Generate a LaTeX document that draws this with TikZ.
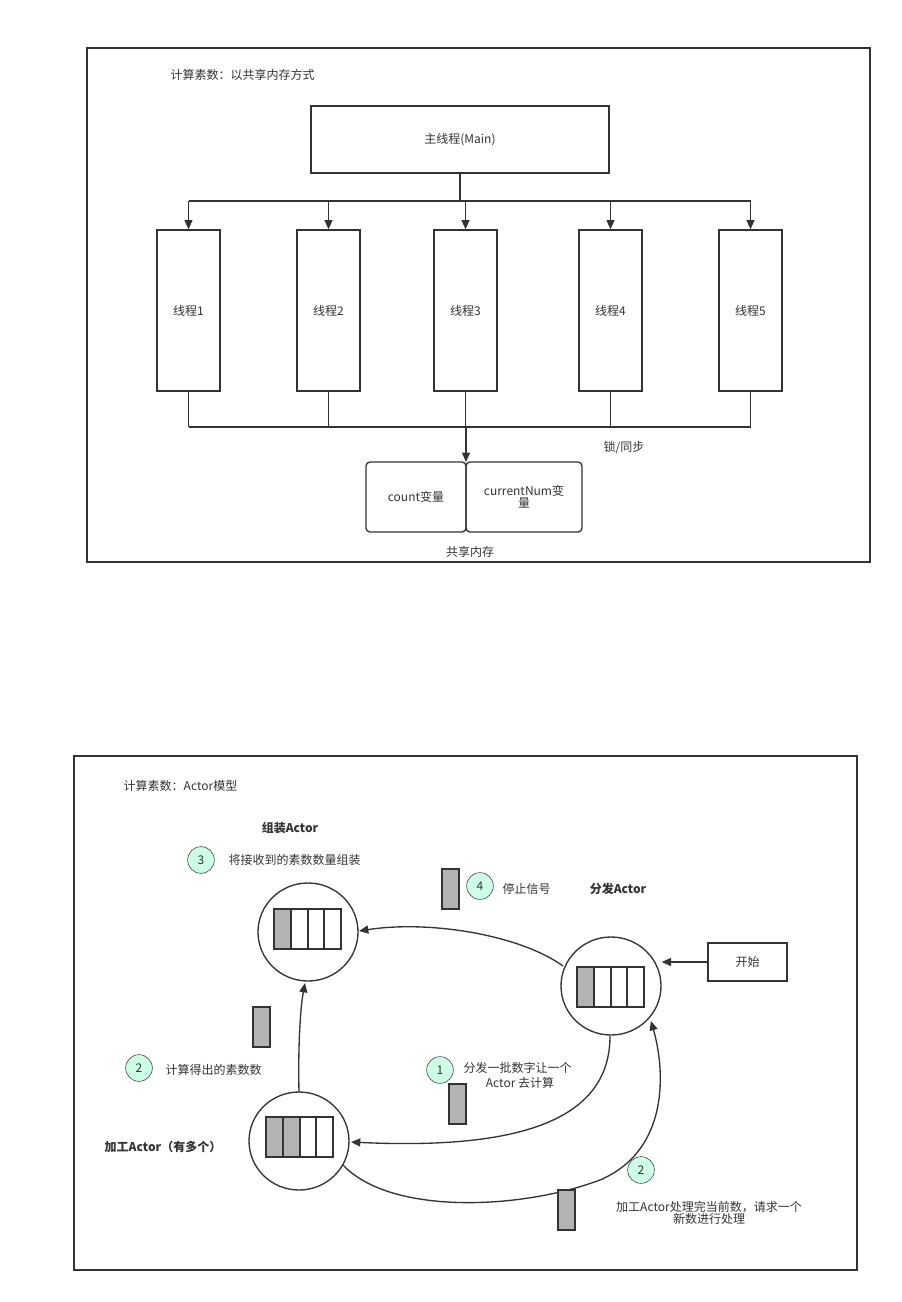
\documentclass[tikz,border=0pt]{standalone}
\usepackage{fontspec}
\setmainfont{Noto Sans CJK SC}
\usetikzlibrary{arrows.meta,shapes.geometric}
\definecolor{ln}{HTML}{333333}
\definecolor{gr}{HTML}{B3B3B3}
\definecolor{mint}{HTML}{CCFFE6}
\begin{document}
\begin{tikzpicture}[x=0.75pt,y=-0.75pt,
  every node/.style={font=\fontsize{9}{11}\selectfont,text=ln},
  box/.style={draw=ln,line width=1pt,inner sep=0},
  arr/.style={draw=ln,line width=1pt,-{Triangle[length=7pt,width=6pt]}},
  ln/.style={draw=ln,line width=1pt},
  num/.style={circle,draw=ln,fill=mint,minimum size=20pt,inner sep=0},
  gbar/.style={draw=ln,fill=gr,line width=1pt},
  act/.style={ellipse,draw=ln,line width=1pt}]
\useasboundingbox (0,0) rectangle (902,1302);
% top
\draw[ln] (87,48) rectangle (870,562);
\node[anchor=west] (t1) at (166,75) {计算素数：以共享内存方式};
\node[box,minimum width=298*0.75pt,minimum height=67*0.75pt] (m) at (460,139.5) {主线程(Main)};
\coordinate (j) at (460,201);
\draw[ln] (m.south) -- (j);
\draw[ln] (188.5,201) -- (750.5,201);
\foreach \i/\x in {1/188.5,2/328.5,3/465.5,4/610.5,5/750.5}{
  \node[box,minimum width=63*0.75pt,minimum height=161*0.75pt] (t\i) at (\x,310.5) {线程\i};
  \draw[arr] (\x,201) -- (t\i.north);
  \draw[ln] (t\i.south) -- (\x,427);
}
\draw[ln] (188.5,427) -- (750.5,427);
\node[box,rounded corners=3pt,minimum width=100*0.75pt,minimum height=70*0.75pt] (c1) at (416,497) {count变量};
\node[box,rounded corners=3pt,minimum width=116*0.75pt,minimum height=70*0.75pt,align=center] (c2) at (524,497) {currentNum变\\[-2pt]量};
\draw[arr] (466,427) -- (466,462);
\node (lk) at (624,447) {锁/同步};
\node (sm) at (470,552) {共享内存};
% bottom
\draw[ln] (74,756) rectangle (857,1270);
\node[anchor=west] (t2) at (119,786) {计算素数：Actor模型};
\node[font=\fontsize{9}{11}\selectfont\bfseries] (zl) at (290,828) {组装Actor};
\node[num] (n3) at (201,860) {3};
\node[anchor=west] (l3) at (224,860) {将接收到的素数数量组装};
\node[act,minimum width=100*0.75pt,minimum height=98*0.75pt] (za) at (308,932) {};
\foreach \x/\f in {274/gr,291/white,308/white,324/white}{\draw[gbar,fill=\f] (\x,909) rectangle ++(17,40);}
\draw[gbar] (442,869) rectangle (459,909);
\node[num] (n4) at (480,886) {4};
\node[anchor=west] (l4) at (498,889) {停止信号};
\node[font=\fontsize{9}{11}\selectfont\bfseries] (fl) at (618,889) {分发Actor};
\node[act,minimum width=100*0.75pt,minimum height=98*0.75pt] (fa) at (611,986) {};
\foreach \x/\f in {577/gr,594/white,611/white,627/white}{\draw[gbar,fill=\f] (\x,967) rectangle ++(17,40);}
\node[box,minimum width=79*0.75pt,minimum height=38*0.75pt] (st) at (747.5,962) {开始};
\draw[arr] (st.west) -- (fa.east |- st.west);
\draw[arr] (563,966) .. controls (520,935) and (430,920) .. (359,931);
\draw[gbar] (253,1007) rectangle (270,1047);
\node[num] (n2a) at (139,1068) {2};
\node[anchor=west] (l2a) at (161,1070) {计算得出的素数数};
\node[act,minimum width=100*0.75pt,minimum height=98*0.75pt] (ja) at (299,1141) {};
\foreach \x/\f in {266/gr,283/gr,300/white,316/white}{\draw[gbar,fill=\f] (\x,1117) rectangle ++(17,40);}
\node[font=\fontsize{9}{11}\selectfont\bfseries] (jl) at (163,1147) {加工Actor（有多个）};
\draw[arr] (299,1092) .. controls (298,1050) and (300,1010) .. (305,983);
\node[num] (n1) at (440,1070) {1};
\node[anchor=west] (l1) at (459,1068) {分发一批数字让一个};
\node (l1b) at (520,1083) {Actor 去计算};
\draw[gbar] (449,1084) rectangle (466,1124);
\draw[arr] (610,1036) .. controls (610,1120) and (520,1150) .. (351,1142);
\draw[arr] (343,1165) .. controls (390,1215) and (520,1210) .. (600,1180) .. controls (670,1150) and (665,1070) .. (651,1021);
\node[num] (n2b) at (641,1170) {2};
\draw[gbar] (558,1190) rectangle (575,1230);
\node[align=center] (l2b) at (709,1213) {加工Actor处理完当前数，请求一个\\[-2pt]新数进行处理};
\end{tikzpicture}
\end{document}
